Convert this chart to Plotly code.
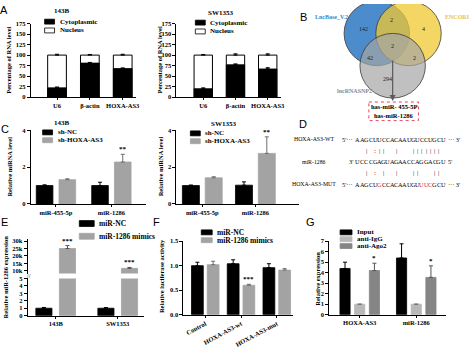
import plotly.graph_objects as go

W, H = 474, 351
SERIF = "Liberation Serif"
SANS = "Liberation Sans"

# ---------------- data ----------------
# Panel A (percentage of RNA level)
a_cats = ["U6", "β-actin", "HOXA-AS3"]
a143_cyto = [22, 81, 68]
a143_nuc = [78, 19, 32]
a143_cyto_err = [2, 1.5, 1.5]
a143_tot_err = [2, 1.5, 2]
asw_cyto = [20, 77, 67]
asw_nuc = [80, 23, 33]
asw_cyto_err = [2, 2, 3]
asw_tot_err = [1.5, 3, 3]

# Panel B (Venn)
venn_labels = ["LncBase_V.2", "ENCORI", "lncRNASNP2"]
venn_counts = [142, 2, 4, 2, 42, 2, 294]   # A, AB, B, ABC, AC, BC, C
venn_hits = ["has-miR- 455-5P", "has-miR-1286"]

# Panel C
c_cats = ["miR-455-5p", "miR-1286"]
c143_nc = [1.0, 1.0]
c143_nc_err = [0.04, 0.18]
c143_sh = [1.32, 2.28]
c143_sh_err = [0.05, 0.42]
csw_nc = [1.0, 1.02]
csw_nc_err = [0.03, 0.18]
csw_sh = [1.42, 2.75]
csw_sh_err = [0.06, 0.9]
c_sig = ["", "**"]

# Panel D
wt_seq = "AAGCUUCCACAAUGUCCUGCU"
mir_seq = "UCCCGAGUAGAACCAGGACGU"
mut_seq = "AAGCUGCCACAAUGUUUCGCU"
wt_pairs = "  | :||  |   ||||||| "
mut_pairs = "  | : |  |   ||   || "
mut_sites = [5, 15, 16, 17]

# Panel E
e_cats = ["143B", "SW1353"]
e_nc = [1.0, 1.0]
e_nc_err = [0.1, 0.08]
e_mim = [25000, 11500]
e_mim_err = [2000, 600]

# Panel F
f_cats = ["Control", "HOXA-AS3-wt", "HOXA-AS3-mut"]
f_nc = [1.0, 1.04, 0.96]
f_nc_err = [0.07, 0.08, 0.08]
f_mim = [1.02, 0.60, 0.91]
f_mim_err = [0.07, 0.02, 0.03]
f_sig = ["", "***", ""]

# Panel G
g_cats = ["HOXA-AS3", "miR-1286"]
g_input = [4.4, 5.4]
g_input_err = [0.6, 1.35]
g_igg = [1.0, 1.0]
g_igg_err = [0, 0]
g_ago = [4.2, 3.55]
g_ago_err = [0.7, 1.1]
g_sig = ["*", "*"]

# ---------------- helpers ----------------
BLACK = "#000000"
GRAY = "#a3a3a3"
LGRAY = "#b8b8b8"
DGRAY = "#858585"

def xd(p0, p1):
    return [p0 / W, p1 / W]

def yd(top, bot):
    return [1 - bot / H, 1 - top / H]

def px(x, y):
    return x / W, 1 - y / H

fig = go.Figure()
annotations = []
shapes = []

tickfont = dict(family=SERIF, size=6.5, color="black", weight="bold")

def xaxis(dom, anchor, rng, cats, show=True, angle=0):
    return dict(domain=dom, anchor=anchor, type="category", categoryorder="array",
                categoryarray=cats, range=rng, showline=show, linecolor="black",
                linewidth=1, ticks="outside" if show else "", ticklen=2, tickcolor="black",
                showticklabels=show, tickfont=tickfont, showgrid=False, zeroline=False,
                tickangle=angle, fixedrange=True)

def yaxis(dom, anchor, rng, tickvals, ticktext=None):
    d = dict(domain=dom, anchor=anchor, range=rng, showline=True, linecolor="black",
             linewidth=1, ticks="outside", ticklen=3, tickcolor="black",
             tickvals=tickvals, tickfont=tickfont, showgrid=False, zeroline=False,
             fixedrange=True)
    if ticktext is not None:
        d["ticktext"] = ticktext
    return d

def bar(ax, cats, vals, errs, color, width, offset, line=None, errcolor=None):
    fig.add_trace(go.Bar(
        x=cats, y=vals, xaxis="x" + ax, yaxis="y" + ax, width=width, offset=offset,
        marker=dict(color=color, line=dict(color=line or color, width=0.8)),
        error_y=dict(type="data", array=errs, arrayminus=[0] * len(vals), symmetric=False,
                     color=errcolor or ("black" if color in (BLACK, "white") else "#6e6e6e"),
                     thickness=1, width=2),
        showlegend=False, hoverinfo="skip"))

def sig(ax, yax, cats, vals, errs, marks, offset, width):
    for i, (v, e, m) in enumerate(zip(vals, errs, marks)):
        if m:
            annotations.append(dict(x=i + offset + width / 2, y=v + e, xref="x" + ax, yref="y" + yax,
                                    text=m, showarrow=False, yanchor="bottom", yshift=-1,
                                    font=dict(family=SERIF, size=7, color="black", weight="bold")))

def text(x, y, s, size=7, anchor="center", color="black", weight="bold", family=SERIF, angle=0):
    xx, yy = px(x, y)
    annotations.append(dict(x=xx, y=yy, xref="paper", yref="paper", text=s, showarrow=False,
                            xanchor=anchor, yanchor="middle", textangle=angle,
                            font=dict(family=family, size=size, color=color, weight=weight)))

def legend_item(x, y, color, label, w=10, h=5, size=7, gap=3):
    x0, y0 = px(x, y - h / 2)
    x1, y1 = px(x + w, y + h / 2)
    shapes.append(dict(type="rect", xref="paper", yref="paper", x0=x0, x1=x1, y0=y1, y1=y0,
                       fillcolor=color, line=dict(color="black" if color in (BLACK, "white") else color, width=0.8)))
    text(x + w + gap, y, label, size=size, anchor="left")

layout_axes = {}

# ---------------- Panel A ----------------
aw = 0.57
layout_axes["xaxis"] = xaxis(xd(31, 137), "y", [-0.8, 2.4], a_cats)
layout_axes["yaxis"] = yaxis(yd(20, 95), "x", [0, 175], list(range(0, 176, 25)))
a143_tot = [c + n for c, n in zip(a143_cyto, a143_nuc)]
fig.add_trace(go.Bar(x=a_cats, y=a143_tot, xaxis="x", yaxis="y", width=aw, offset=-aw / 2,
                     marker=dict(color="white", line=dict(color="black", width=1)),
                     error_y=dict(type="data", array=a143_tot_err, arrayminus=[0, 0, 0], symmetric=False,
                                  color="black", thickness=1, width=2),
                     showlegend=False, hoverinfo="skip"))
bar("", a_cats, a143_cyto, a143_cyto_err, BLACK, aw, -aw / 2)

layout_axes["xaxis2"] = xaxis(xd(178, 283), "y2", [-0.83, 2.4], a_cats)
layout_axes["yaxis2"] = yaxis(yd(20, 95), "x2", [0, 175], list(range(0, 176, 25)))
asw_tot = [c + n for c, n in zip(asw_cyto, asw_nuc)]
fig.add_trace(go.Bar(x=a_cats, y=asw_tot, xaxis="x2", yaxis="y2", width=aw, offset=-aw / 2,
                     marker=dict(color="white", line=dict(color="black", width=1)),
                     error_y=dict(type="data", array=asw_tot_err, arrayminus=[0, 0, 0], symmetric=False,
                                  color="black", thickness=1, width=2),
                     showlegend=False, hoverinfo="skip"))
bar("2", a_cats, asw_cyto, asw_cyto_err, BLACK, aw, -aw / 2)

text(63, 7, "143B")
text(222, 9, "SW1353")
legend_item(45, 18, BLACK, "Cytoplasmic")
legend_item(45, 27, "white", "Nucleus")
legend_item(197, 19, BLACK, "Cytoplasmic")
legend_item(197, 28, "white", "Nucleus")
text(9, 57, "Percentage of RNA level", size=6.5, angle=-90)
text(161, 57, "Percentage of RNA level", size=6.5, angle=-90)

# ---------------- Panel C ----------------
layout_axes["xaxis3"] = xaxis(xd(31, 147), "y3", [-0.455, 1.62], c_cats)
layout_axes["yaxis3"] = yaxis(yd(129, 204), "x3", [0, 4], [0, 2, 4])
cw = 0.3
bar("3", c_cats, c143_nc, c143_nc_err, BLACK, cw, -0.205 - cw / 2)
bar("3", c_cats, c143_sh, c143_sh_err, GRAY, cw, 0.205 - cw / 2)
sig("3", "3", c_cats, c143_sh, c143_sh_err, c_sig, 0.205 - cw / 2, cw)

layout_axes["xaxis4"] = xaxis(xd(178, 302), "y4", [-0.486, 1.83], c_cats)
layout_axes["yaxis4"] = yaxis(yd(129, 204), "x4", [0, 4], [0, 2, 4])
cw2 = 0.32
bar("4", c_cats, csw_nc, csw_nc_err, BLACK, cw2, -0.215 - cw2 / 2)
bar("4", c_cats, csw_sh, csw_sh_err, GRAY, cw2, 0.215 - cw2 / 2)
sig("4", "4", c_cats, csw_sh, csw_sh_err, c_sig, 0.215 - cw2 / 2, cw2)

text(63, 121, "143B")
text(225, 122, "SW1353")
legend_item(43, 131, BLACK, "sh-NC")
legend_item(43, 139, GRAY, "sh-HOXA-AS3")
legend_item(192, 132, BLACK, "sh-NC")
legend_item(192, 140, GRAY, "sh-HOXA-AS3")
text(10, 166, "Relative miRNA level", size=6.5, angle=-90)
text(162, 166, "Relative miRNA level", size=6.5, angle=-90)

# ---------------- Panel E (broken axis) ----------------
ew = 0.26
layout_axes["xaxis5"] = xaxis(xd(28, 145), "y5", [-0.45, 1.42], e_cats)
layout_axes["yaxis5"] = yaxis(yd(280, 318), "x5", [0, 5], [0, 1, 2, 3, 4, 5])
layout_axes["xaxis6"] = xaxis(xd(28, 145), "y6", [-0.45, 1.42], e_cats, show=False)
layout_axes["yaxis6"] = yaxis(yd(240, 275), "x6", [8000, 31333], [10000, 15000, 20000, 25000, 30000])
bar("5", e_cats, e_nc, e_nc_err, BLACK, ew, -0.19 - ew / 2)
bar("5", e_cats, e_mim, [0, 0], GRAY, ew, 0.19 - ew / 2)
fig.add_trace(go.Bar(x=e_cats, y=e_mim, xaxis="x6", yaxis="y6", width=ew, offset=0.19 - ew / 2,
                     marker=dict(color=GRAY, line=dict(color=GRAY, width=0.8)),
                     error_y=dict(type="data", array=e_mim_err, arrayminus=[0, 0], symmetric=False,
                                  color="#555555", thickness=1, width=2),
                     showlegend=False, hoverinfo="skip"))
sig("6", "6", e_cats, e_mim, e_mim_err, ["***", "***"], 0.19 - ew / 2, ew)
text(29, 277.5, "//", size=6, weight="normal", angle=0)
legend_item(80, 224, BLACK, "miR-NC", w=15, h=6, size=7.5)
legend_item(80, 237, GRAY, "miR-1286 mimics", w=15, h=6, size=7.5)
text(5, 278, "Relative miR-1286 expression", size=6.5, angle=-90)

# ---------------- Panel F ----------------
fw = 0.33
layout_axes["xaxis7"] = xaxis(xd(185, 295), "y7", [-0.61, 2.44], f_cats, angle=-28)
layout_axes["yaxis7"] = yaxis(yd(242, 317), "x7", [0, 1.5], [0, 0.5, 1.0, 1.5], ["0.0", "0.5", "1.0", "1.5"])
bar("7", f_cats, f_nc, f_nc_err, BLACK, fw, -0.22 - fw / 2)
bar("7", f_cats, f_mim, f_mim_err, GRAY, fw, 0.22 - fw / 2)
sig("7", "7", f_cats, f_mim, f_mim_err, f_sig, 0.22 - fw / 2, fw)
legend_item(203, 233, BLACK, "miR-NC", w=11, h=5, size=7.5)
legend_item(203, 241, GRAY, "miR-1286 mimics", w=11, h=5, size=7.5)
text(163, 278, "Relative luciferase activity", size=6.5, angle=-90)

# ---------------- Panel G ----------------
gw = 0.18
layout_axes["xaxis8"] = xaxis(xd(332, 450), "y8", [-0.54, 1.53], g_cats)
layout_axes["yaxis8"] = yaxis(yd(242, 317), "x8", [0, 7], list(range(0, 8)))
bar("8", g_cats, g_input, g_input_err, BLACK, gw, -0.26 - gw / 2)
bar("8", g_cats, g_igg, g_igg_err, LGRAY, gw, -gw / 2)
bar("8", g_cats, g_ago, g_ago_err, DGRAY, gw, 0.26 - gw / 2, errcolor="#555555")
sig("8", "8", g_cats, g_ago, g_ago_err, g_sig, 0.26 - gw / 2, gw)
legend_item(343, 233, BLACK, "Input", w=12, h=5, size=7)
legend_item(343, 240, LGRAY, "anti-IgG", w=12, h=5, size=7)
legend_item(343, 247, DGRAY, "anti-Ago2", w=12, h=5, size=7)
text(320, 280, "Relative expression", size=6.5, angle=-90)

# ---------------- Panel B (Venn) ----------------
layout_axes["xaxis9"] = dict(domain=xd(310, 474), anchor="y9", range=[0, 164], visible=False, fixedrange=True)
layout_axes["yaxis9"] = dict(domain=yd(0, 120), anchor="x9", range=[120, 0], visible=False, fixedrange=True)
circles = [(70, 30, "rgba(45,120,195,0.85)"), (102, 30, "rgba(240,200,50,0.75)"), (86, 63, "rgba(165,165,165,0.7)")]
r = 33
for cx, cy, col in circles:
    shapes.append(dict(type="circle", xref="x9", yref="y9", x0=cx - r, x1=cx + r, y0=cy - r, y1=cy + r,
                       fillcolor=col, line=dict(color="#3a3a3a", width=0.8), layer="below"))
count_pos = [(57, 25), (85, 16), (117, 25), (86, 43), (63, 55), (108, 55), (81, 77)]
for (vx, vy), n in zip(count_pos, venn_counts):
    annotations.append(dict(x=vx, y=vy, xref="x9", yref="y9", text=str(n), showarrow=False,
                            font=dict(family=SERIF, size=6, color="#222222")))
annotations.append(dict(x=43, y=13, xref="x9", yref="y9", text=venn_labels[0], showarrow=False, xanchor="right",
                        font=dict(family=SERIF, size=6, color="#3a86c8", weight="bold")))
annotations.append(dict(x=137, y=13, xref="x9", yref="y9", text=venn_labels[1], showarrow=False, xanchor="left",
                        font=dict(family=SERIF, size=6, color="#e6c34a", weight="bold")))
annotations.append(dict(x=48, y=89, xref="x9", yref="y9", text=venn_labels[2], showarrow=False,
                        font=dict(family=SERIF, size=6, color="#8a8a8a", weight="bold")))
annotations.append(dict(x=86, y=99, xref="x9", yref="y9", ax=86, ay=56, axref="x9", ayref="y9", text="",
                        showarrow=True, arrowhead=2, arrowsize=1, arrowwidth=1.2, arrowcolor="#5a5a5a"))
shapes.append(dict(type="rect", xref="x9", yref="y9", x0=62, x1=112, y0=100, y1=119,
                   line=dict(color="#e0455a", width=1, dash="dot"), fillcolor="rgba(0,0,0,0)"))
for k, h in enumerate(venn_hits):
    annotations.append(dict(x=87, y=105 + 9 * k, xref="x9", yref="y9", text=h, showarrow=False,
                            font=dict(family=SERIF, size=6.5, color="black", weight="bold")))

# ---------------- Panel D (sequences) ----------------
seq_x0, pitch = 361, 4.3
rows = {"wt": 138, "p1": 149, "mir": 161, "p2": 172, "mut": 184}
DS = 6.3
def seq_row(y, seq, red=()):
    for i, ch in enumerate(seq):
        if ch == " ":
            continue
        text(seq_x0 + i * pitch, y, ch, size=DS, weight="normal",
             color="#d62a3c" if i in red else "black")
end_x = seq_x0 + (len(wt_seq) - 1) * pitch
seq_row(rows["wt"], wt_seq)
seq_row(rows["p1"], wt_pairs)
seq_row(rows["mir"], mir_seq)
seq_row(rows["p2"], mut_pairs)
seq_row(rows["mut"], mut_seq, red=mut_sites)
text(seq_x0 - 2.5, rows["wt"], "5'···", size=DS, anchor="right", weight="normal")
text(end_x + 2.5, rows["wt"], "··· 3'", size=DS, anchor="left", weight="normal")
text(seq_x0 - 3, rows["mir"], "3'", size=DS, anchor="right", weight="normal")
text(end_x + 3, rows["mir"], "5'", size=DS, anchor="left", weight="normal")
text(seq_x0 - 2.5, rows["mut"], "5'···", size=DS, anchor="right", weight="normal")
text(end_x + 2.5, rows["mut"], "··· 3'", size=DS, anchor="left", weight="normal")
text(317, rows["wt"], "HOXA-AS3-WT", size=5.8, weight="normal")
text(317, rows["mir"], "miR-1286", size=5.8, weight="normal")
text(317, rows["mut"], "HOXA-AS3-MUT", size=5.8, weight="normal")

# ---------------- panel letters ----------------
for lt, (lx, ly) in {"A": (4, 6), "B": (306, 13), "C": (5, 128), "D": (306, 122),
                      "E": (5, 222), "F": (158, 222), "G": (313, 222)}.items():
    text(lx, ly, lt, size=11, weight="normal", family=SANS)

fig.update_layout(width=W, height=H, margin=dict(l=0, r=0, t=0, b=0),
                  paper_bgcolor="white", plot_bgcolor="rgba(0,0,0,0)", showlegend=False,
                  annotations=annotations, shapes=shapes, **layout_axes)
fig.write_html("out.html")
